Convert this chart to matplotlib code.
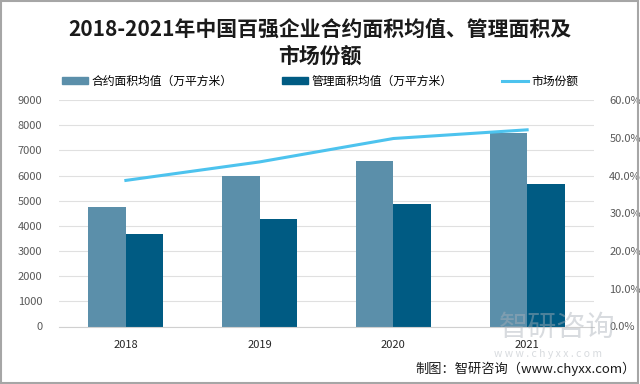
import numpy as np
import matplotlib
matplotlib.use("Agg")
import matplotlib.pyplot as plt
from matplotlib.lines import Line2D
from matplotlib.patches import Patch, Rectangle

plt.rcParams['font.family'] = ['Noto Sans CJK SC', 'DejaVu Sans']

# ============================================================
# DONNÉES
# ============================================================
years = ["2018", "2019", "2020", "2021"]
contract_area = [4750, 5970, 6560, 7690]      # 合约面积均值（万平方米）
managed_area = [3680, 4280, 4880, 5670]       # 管理面积均值（万平方米）
market_share = [38.7, 43.6, 49.8, 52.1]       # 市场份额 (%)

left_ticks = [0, 1000, 2000, 3000, 4000, 5000, 6000, 7000, 8000, 9000]
right_ticks = [0, 10, 20, 30, 40, 50, 60]

title = "2018-2021年中国百强企业合约面积均值、管理面积及\n市场份额"
label_contract = "合约面积均值（万平方米）"
label_managed = "管理面积均值（万平方米）"
label_share = "市场份额"
source = "制图：智研咨询（www.chyxx.com）"

C_LIGHT = "#5B8FAA"
C_DARK = "#005B83"
C_LINE = "#4DC3EE"
C_GRID = "#E0E0E0"
C_TICK = "#595959"

# ============================================================
# FIGURE
# ============================================================
fig = plt.figure(figsize=(6.4, 3.84), dpi=100)
ax = fig.add_axes([59 / 640, 1 - 326.5 / 384, 535 / 640, 226.5 / 384])

x = np.arange(len(years))
w = 0.28
ax.bar(x - w / 2, contract_area, width=w, color=C_LIGHT, zorder=2)
ax.bar(x + w / 2, managed_area, width=w, color=C_DARK, zorder=2)

ax.set_xlim(-0.5, len(years) - 0.5)
ax.set_ylim(0, 9000)
ax.set_yticks(left_ticks)
ax.set_yticklabels([str(v) for v in left_ticks], color=C_TICK, fontsize=8)
ax.set_xticks(x)
ax.set_xticklabels(years, fontsize=8, color="#262626")
ax.tick_params(axis="both", length=0)
ax.tick_params(axis="y", pad=12)
ax.tick_params(axis="x", pad=10)
ax.grid(axis="y", color=C_GRID, linewidth=0.8, zorder=0)
for s in ax.spines.values():
    s.set_visible(False)
ax.spines["bottom"].set_visible(True)
ax.spines["bottom"].set_color("#D0D0D0")

ax2 = ax.twinx()
ax2.plot(x, market_share, color=C_LINE, linewidth=2.2, zorder=3)
ax2.set_ylim(0, 60)
ax2.set_yticks(right_ticks)
ax2.set_yticklabels([f"{v:.1f}%" for v in right_ticks], color=C_TICK, fontsize=8)
ax2.tick_params(axis="y", length=0, pad=11)
for s in ax2.spines.values():
    s.set_visible(False)

# Titre
fig.text(0.5, 1 - 43 / 384, title, ha="center", va="center", fontsize=15,
         fontweight="bold", color="#1a1a1a", linespacing=1.3)

# Légende
handles = [Patch(color=C_LIGHT), Patch(color=C_DARK),
           Line2D([0], [0], color=C_LINE, linewidth=2.2)]
fig.legend(handles, [label_contract, label_managed, label_share],
           loc="center", bbox_to_anchor=(0.5, 1 - 81 / 384), ncol=3,
           frameon=False, fontsize=8.5, handlelength=2.2, handleheight=0.5,
           columnspacing=4.2, handletextpad=0.3)

# Filigrane
fig.text(557 / 640, 1 - 328 / 384, "智研咨询", ha="center", va="center",
         fontsize=21, color="#A9B0B8", alpha=0.45, zorder=5)
fig.text(548 / 640, 1 - 354 / 384, "w w w . c h y x x . c o m", ha="center",
         va="center", fontsize=7.5, color="#A9B0B8", alpha=0.45, zorder=5)

# Source
fig.text(636 / 640, 1 - 369 / 384, source, ha="right", va="center",
         fontsize=9.5, color="#1a1a1a")

# Cadre
fig.patches.append(Rectangle((0.002, 0.003), 0.995, 0.994, transform=fig.transFigure,
                             fill=False, edgecolor="#A6A6A6", linewidth=1.5))

fig.savefig("out.png", dpi=100)
